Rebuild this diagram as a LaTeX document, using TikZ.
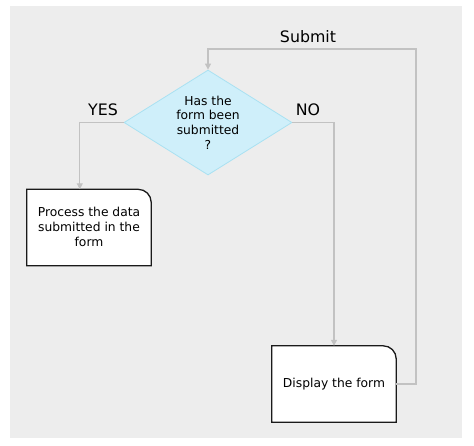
\documentclass[tikz,border=0pt]{standalone}
\usepackage{fontspec}
\setmainfont{DejaVu Sans}
\usetikzlibrary{shapes.geometric,arrows.meta}
\definecolor{bg}{HTML}{EDEDED}
\definecolor{conncol}{HTML}{C2C2C2}
\definecolor{dfill}{HTML}{CFEFFA}
\definecolor{ddraw}{HTML}{A9E1F2}
\definecolor{boxline}{HTML}{1A1A1A}
\tikzset{
  conn/.style={draw=conncol, line width=1.1pt},
  arr/.style={conn, -{Triangle[width=6pt,length=6pt]}},
  lbl/.style={font=\fontsize{15.8}{18}\selectfont, inner sep=0pt},
  boxtext/.style={font=\fontsize{12.3}{15}\selectfont, align=center, inner sep=0pt,
                  minimum width=124pt, minimum height=76pt},
  decision/.style={diamond, aspect=1.6, fill=dfill, draw=ddraw, line width=0.8pt, inner sep=0pt,
                   minimum width=168pt, minimum height=105pt,
                   font=\fontsize{12.3}{14.7}\selectfont, align=center},
  outline/.style={draw=boxline, fill=white, line width=1.3pt}
}
\begin{document}
\begin{tikzpicture}[x=1pt,y=-1pt]
\useasboundingbox (0,0) rectangle (474,445);
\fill[bg] (10,6) rectangle (462,438);

% process box
\node[boxtext] (proc) at (89,227.5) {};
\draw[outline] (proc.south west) -- (proc.north west) -- ([xshift=-13pt]proc.north east)
  arc[start angle=90,end angle=0,radius=13pt] -- (proc.south east) -- cycle;
\node[boxtext] (proctext) at ([yshift=1pt]proc.center) {Process the data\\submitted in the\\form};

% display box
\node[boxtext] (disp) at (334,384) {};
\draw[outline] (disp.south west) -- (disp.north west) -- ([xshift=-13pt]disp.north east)
  arc[start angle=90,end angle=0,radius=13pt] -- (disp.south east) -- cycle;
\node[boxtext] (disptext) at (disp.center) {Display the form};

% decision
\node[decision] (dec) at (208,122.5) {Has the\\form been\\submitted\\?};

% labels
\node[lbl] (submit) at (308,37) {Submit};
\node[lbl] (yes) at (103,110) {YES};
\node[lbl] (no) at (308,110) {NO};

% connectors
\coordinate (yesin) at ([xshift=53pt]proc.north west);
\draw[arr] (dec.west) -| (yesin);
\draw[arr] (dec.east) -| (disp.north);
\coordinate (loopr) at (416,49);
\draw[arr] (disp.east) -| (loopr) -| (dec.north);
\end{tikzpicture}
\end{document}
